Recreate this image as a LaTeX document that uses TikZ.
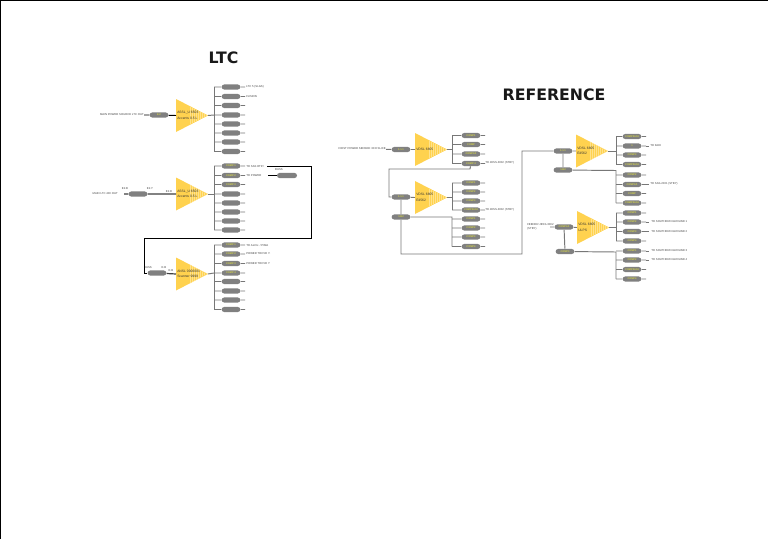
\documentclass[tikz,border=0pt]{standalone}
\usepackage{fontspec}
\setmainfont{Liberation Sans}
\newfontfamily\titlefont{DejaVu Sans}
\definecolor{wiregray}{HTML}{777777}
\definecolor{pillgray}{HTML}{808080}
\definecolor{pilltext}{HTML}{D2D24A}
\definecolor{triyellow}{HTML}{FFD24F}
\definecolor{tristripe}{HTML}{FFE28C}
\definecolor{txtgray}{HTML}{444444}
\tikzset{
  wire/.style={draw=wiregray,line width=0.72pt},
  darkwire/.style={draw=black,line width=0.72pt},
  pill/.style={rounded rectangle,draw=none,fill=pillgray,minimum width=14pt,minimum height=3.8pt,inner sep=0pt,text=pilltext,font=\fontsize{1.9}{2.2}\selectfont\bfseries},
  small/.style={inner sep=0pt,text=txtgray,font=\fontsize{2.1}{2.7}\selectfont,align=left},
  tritext/.style={inner sep=0pt,text=black!80,font=\fontsize{2.5}{4.2}\selectfont,align=left,anchor=west},
  titletext/.style={inner sep=0pt,text=black!90,font=\titlefont\fontsize{11.8}{14}\selectfont\bfseries}
}
\usetikzlibrary{shapes.misc}
% amplifier triangle: name, x, y(centre), text
\newcommand{\amp}[4]{%
  \coordinate (#1) at (#2,#3);
  \coordinate (#1-in) at (#2,#3);
  \coordinate (#1-out) at (#2+32,#3);
  \begin{scope}
    \clip (#2,#3-16.5) -- (#2+32,#3) -- (#2,#3+16.5) -- cycle;
    \fill[triyellow] (#2,#3-17) rectangle (#2+33,#3+17);
    \foreach \s in {14,16,...,32} \draw[tristripe,line width=0.3pt] (#2+\s,#3-17) -- (#2+\s,#3+17);
  \end{scope}
  \node[tritext] (#1-t) at (#2+1,#3) {#4};
}
% output: name, bus x, y, text in pill, pill x
\newcommand{\outp}[5]{%
  \coordinate (#1-b) at (#2,#3);
  \node[pill] (#1) at (#5,#3) {#4};
  \coordinate (#1-e) at (#5+14,#3);
  \draw[wire] (#1-b) -- (#1) -- (#1-e);
}
\begin{document}
\begin{tikzpicture}[x=0.75pt,y=-0.75pt]
\useasboundingbox (0,0) rectangle (768,539);
\fill[white] (0,0) rectangle (768,539);
\coordinate (fa) at (0.5,539);
\coordinate (fb) at (0.5,0.5);
\coordinate (fc) at (768,0.5);
\draw[black,line width=0.8pt] (fa) -- (fb) -- (fc);

\node[titletext] (ltc) at (223.5,58) {LTC};
\node[titletext] (ref) at (554,95) {REFERENCE};

% ---------- LTC group 1
\amp{a1}{176}{115.5}{ASSL\_U 6503\\Accents 0.5 L}
\node[pill] (s1) at (159,115) {E.2};
\node[small,anchor=east] (s1l) at (144,115) {MAIN POWER SOURCE LTC OUT};
\draw[darkwire] (s1l) -- (s1) -- (a1-in);
\outp{a1o1}{214}{87}{}{231}
\outp{a1o2}{214}{96.5}{}{231}
\outp{a1o3}{214}{105.5}{}{231}
\outp{a1o4}{214}{115}{}{231}
\outp{a1o5}{214}{124}{}{231}
\outp{a1o6}{214}{133}{}{231}
\outp{a1o7}{214}{142}{}{231}
\outp{a1o8}{214}{151.5}{}{231}
\draw[wire] (a1-out) -- (a1o4-b);
\draw[wire] (a1o1-b) -- (a1o8-b);
\node[small,anchor=west] (a1l1) at (246,87) {LTC 5 (SLGS)};
\node[small,anchor=west] (a1l2) at (246,96.5) {FUSION};

% ---------- LTC group 2
\amp{a2}{176}{194}{ASSL\_U 6503\\Accents 0.5 L}
\node[pill] (s2) at (138,194) {};
\node[small,anchor=east] (s2l) at (118,194) {MAIN LTC 400 OUT};
\coordinate (s2w) at (124,194);
\draw[draw=black!75,line width=0.9pt] (s2w) -- (s2) -- (a2-in);
\node[small] (s2a) at (125,188.5) {E2.B};
\node[small] (s2b) at (150,188.5) {E2.Y};
\node[small] (s2c) at (169,191.5) {E2.D};
\outp{a2o1}{214}{166}{COMP 1}{231}
\outp{a2o2}{214}{175.5}{COMP 2}{231}
\outp{a2o3}{214}{184.5}{COMP 3}{231}
\outp{a2o4}{214}{194}{}{231}
\outp{a2o5}{214}{203}{}{231}
\outp{a2o6}{214}{212}{}{231}
\outp{a2o7}{214}{221}{}{231}
\outp{a2o8}{214}{230}{}{231}
\draw[wire] (a2-out) -- (a2o4-b);
\draw[wire] (a2o1-b) -- (a2o8-b);
\node[small,anchor=west] (a2l1) at (246,166) {TO SAS RTP/.};
\node[small,anchor=west] (a2l2) at (246,175.5) {TO POWER};
\node[pill,minimum width=15pt] (bus) at (287,175.5) {};
\node[small] (busl) at (279,169.5) {BUSS};
\coordinate (busw) at (268,175.5);
\draw[darkwire] (busw) -- (bus);

% ---------- LTC group 3
\amp{a3}{176}{274}{ANSL 0000001\\Scanner 9999}
\node[pill] (s3) at (157,273) {};
\node[small] (s3a) at (148,268) {BUSS};
\node[small] (s3b) at (164,268) {E.B};
\node[small] (s3c) at (171,271) {E.B};
\draw[draw=black!75,line width=0.9pt] (s3) -- (a3-in);
\outp{a3o1}{214}{245}{COMP 1}{231}
\outp{a3o2}{214}{254}{COMP 2}{231}
\outp{a3o3}{214}{263.5}{COMP 3}{231}
\outp{a3o4}{214}{273}{COMP 4}{231}
\outp{a3o5}{214}{281.5}{}{231}
\outp{a3o6}{214}{291}{}{231}
\outp{a3o7}{214}{300}{}{231}
\outp{a3o8}{214}{309.5}{}{231}
\draw[wire] (a3-out) -- (a3o4-b);
\draw[wire] (a3o1-b) -- (a3o8-b);
\node[small,anchor=west] (a3l1) at (246,245) {TO ALCU. / PIMA};
\node[small,anchor=west] (a3l2) at (246,254) {POWER TRCVR Y.};
\node[small,anchor=west] (a3l3) at (246,263.5) {POWER TRCVR Y};

% long black loop from group 2 to group 3
\coordinate (lp0) at (267,166);
\coordinate (lp1) at (311,166);
\coordinate (lp2) at (311,238);
\coordinate (lp3) at (144,238);
\coordinate (lp4) at (144,273);
\draw[darkwire] (lp0) -- (lp1) -- (lp2) -- (lp3) -- (lp4) -- (s3);

% ---------- REFERENCE group A
\amp{ra}{415}{149.5}{VDSL 6805}
\node[pill] (rs) at (401,149.5) {1.1.1};
\node[small,anchor=east] (rsl) at (386,149) {FIRST POWER SENSED 3CH SLICE};
\draw[wire] (rsl) -- (rs) -- (ra-in);
\outp{rao1}{452}{135.5}{COMP1}{471}
\outp{rao2}{452}{144.5}{COMP}{471}
\outp{rao3}{452}{154}{COMP3A}{471}
\outp{rao4}{452}{163.5}{COMP 4}{471}
\draw[wire] (ra-out) -- ++(5,0);
\draw[wire] (rao1-b) -- (rao4-b);
\node[small,anchor=west] (ral) at (485,163) {TO JESS-3002 (STBY)};

% ---------- REFERENCE group B
\amp{rb}{415}{197.5}{VDSL 6805\\E4562}
\node[pill] (rbs) at (401,197) {1.1.1};
\node[pill] (rbs2) at (401,217) {1.B2};
\draw[wire] (rbs) -- (rb-in);
\draw[wire] (rbs) -- (rbs2);
\outp{rbo1}{452}{183}{COMP1}{471}
\outp{rbo2}{452}{192}{COMP2}{471}
\outp{rbo3}{452}{201}{COMP3}{471}
\outp{rbo4}{452}{210}{COMP3A04}{471}
\draw[wire] (rb-out) -- ++(5,0);
\draw[wire] (rbo1-b) -- (rbo4-b);
\node[small,anchor=west] (rbl) at (485,210) {TO JESS-3002 (STBY)};
\outp{rbo5}{452}{219}{COMP1}{471}
\outp{rbo6}{452}{228}{COMP2}{471}
\outp{rbo7}{452}{237}{COMP3}{471}
\outp{rbo8}{452}{246.5}{COMP4}{471}
\coordinate (rbj) at (452,217);
\draw[wire] (rbs2) -- (rbj) -- (rbo8-b);

% feedback A -> B
\coordinate (fb1) at (470,169);
\coordinate (fb2) at (389,169);
\coordinate (fb3) at (389,197);
\draw[wire] (rao4) -- (fb1) -- (fb2) -- (fb3) -- (rbs);

% ---------- REFERENCE group C
\amp{rc}{576}{151}{VDSL 6805\\E4562}
\node[pill] (rcs) at (563,151) {1.1.1};
\node[pill] (rcs2) at (563,170) {1.B2};
\draw[wire] (rcs) -- (rc-in);
\draw[wire] (rcs) -- (rcs2);
\outp{rco1}{616}{136.5}{COMP3A04}{632}
\outp{rco2}{616}{146}{1}{632}
\outp{rco3}{616}{155}{COMP3}{632}
\outp{rco4}{616}{164.5}{COMP3A04}{632}
\draw[wire] (rc-out) -- ++(8,0);
\draw[wire] (rco1-b) -- (rco4-b);
\coordinate (rco2x) at (649,146);
\draw[wire] (rco2-e) -- (rco2x);
\node[small,anchor=west] (rcl1) at (650,145.5) {TO FADI};
\outp{rco5}{616}{175}{COMP2}{632}
\outp{rco6}{616}{184.5}{COMP3A}{632}
\outp{rco7}{616}{193.5}{COMP}{632}
\outp{rco8}{616}{203}{COMP3A04}{632}
\coordinate (rcj) at (616,170.5);
\draw[wire] (rcs2) -- (rcj) -- (rco8-b);
\coordinate (rco6x) at (649,184.5);
\draw[wire] (rco6-e) -- (rco6x);
\node[small,anchor=west] (rcl2) at (650,183.5) {TO SAS-2001 (STBY)};

% long link B -> C
\coordinate (ln1) at (401,254);
\coordinate (ln2) at (522,254);
\coordinate (ln3) at (522,151);
\draw[wire] (rbs2) -- (ln1) -- (ln2) -- (ln3) -- (rcs);

% ---------- REFERENCE group D
\amp{rd}{577}{227.5}{VDSL 6805\\ULPS}
\node[pill] (rds) at (564,227) {COMP3A};
\node[pill] (rds2) at (565,251.5) {COMP3};
\coordinate (rdw) at (550,227);
\draw[wire] (rdw) -- (rds) -- (rd-in);
\draw[wire] (rds) -- (rds2);
\node[small,anchor=west] (rdl) at (527,227) {FEEDER JESS-3002\\(STBY)};
\outp{rdo1}{616}{213}{COMP1}{632}
\outp{rdo2}{616}{222}{COMP2}{632}
\outp{rdo3}{616}{231.5}{COMP3}{632}
\outp{rdo4}{616}{241}{COMP4}{632}
\draw[wire] (rd-out) -- ++(7,0);
\draw[wire] (rdo1-b) -- (rdo4-b);
\outp{rdo5}{616}{251}{COMP1}{632}
\outp{rdo6}{616}{260}{COMP2}{632}
\outp{rdo7}{616}{269.5}{COMP3A04}{632}
\outp{rdo8}{616}{279}{COMP4}{632}
\coordinate (rdj) at (616,252);
\draw[wire] (rds2) -- (rdj) -- (rdo8-b);
\foreach \n/\y/\t in {rdo2/222/TO SOUTHERN GROUND 1,rdo3/231.5/TO SOUTHERN GROUND 2,rdo5/251/TO SOUTHERN GROUND 3,rdo6/260/TO SOUTHERN GROUND 4}{
  \coordinate (\n x) at (649,\y);
  \draw[wire] (\n-e) -- (\n x);
  \node[small,anchor=west] (\n l) at (651,\y) {\t};
}
\end{tikzpicture}
\end{document}
